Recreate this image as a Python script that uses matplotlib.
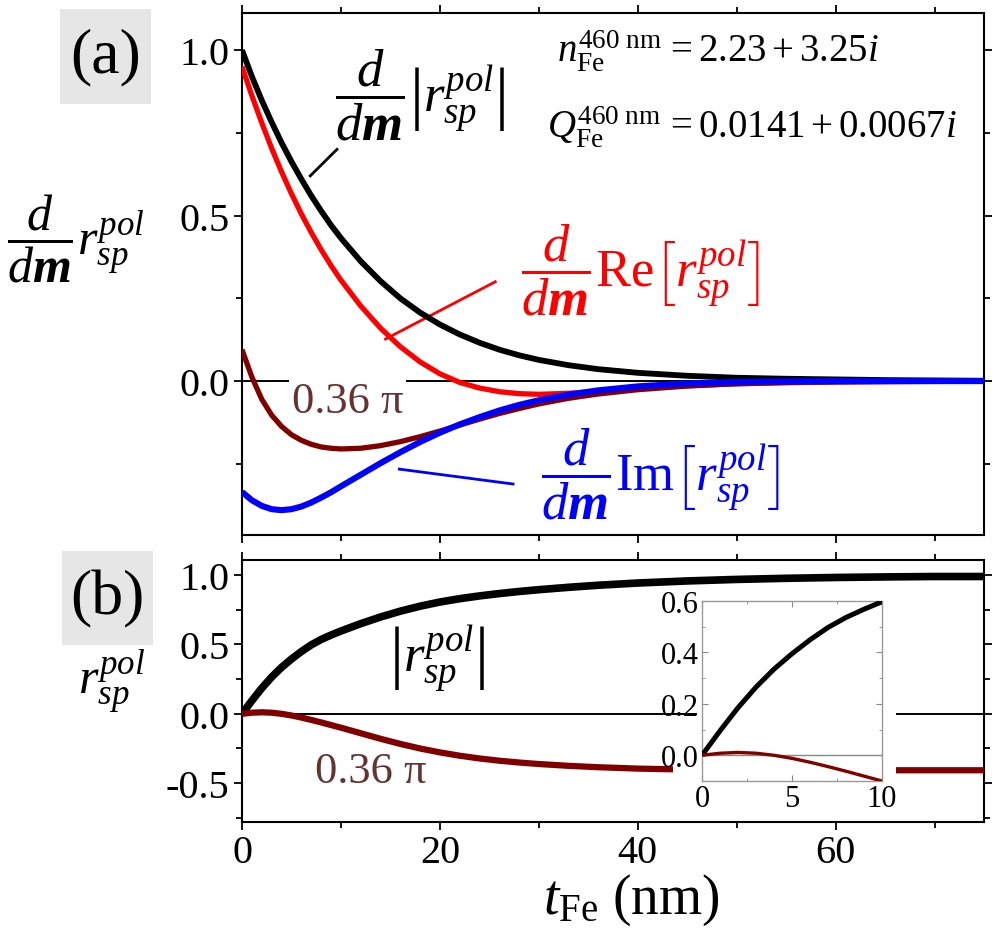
import numpy as np
import matplotlib
matplotlib.use('Agg')
import matplotlib.pyplot as plt
from matplotlib.patches import Rectangle
from matplotlib.ticker import MultipleLocator, FormatStrFormatter

plt.rcParams['font.family'] = ['Liberation Serif', 'DejaVu Serif']
plt.rcParams['mathtext.fontset'] = 'custom'
plt.rcParams['mathtext.rm'] = 'Liberation Serif'
plt.rcParams['mathtext.it'] = 'Liberation Serif:italic'
plt.rcParams['mathtext.bf'] = 'Liberation Serif:bold:italic'
plt.rcParams['axes.unicode_minus'] = False

# thickness t_Fe (nm)
t = [0, 1, 2, 3, 4, 5, 6, 7, 8, 9, 10, 12, 14, 16, 18, 20, 22, 24, 26, 28, 30,
     33, 36, 40, 45, 50, 55, 60, 65, 70, 75]

# panel (a): derivatives d/dm of r_sp^pol
d_abs = [1.0, 0.92, 0.848, 0.782, 0.72, 0.663, 0.61, 0.56, 0.514, 0.471, 0.432, 0.362,
         0.302, 0.25, 0.207, 0.171, 0.141, 0.116, 0.095, 0.078, 0.064, 0.048, 0.036,
         0.025, 0.016, 0.01, 0.007, 0.005, 0.003, 0.002, 0.001]
d_re = [0.95, 0.862, 0.78, 0.703, 0.632, 0.566, 0.505, 0.449, 0.397, 0.349, 0.305, 0.227,
        0.16, 0.104, 0.058, 0.022, -0.004, -0.021, -0.032, -0.038, -0.04, -0.037, -0.031,
        -0.022, -0.014, -0.008, -0.005, -0.003, -0.002, -0.001, 0.0]
d_im = [-0.335, -0.36, -0.377, -0.387, -0.39, -0.387, -0.379, -0.367, -0.352, -0.336,
        -0.318, -0.283, -0.248, -0.215, -0.184, -0.156, -0.131, -0.109, -0.089, -0.072,
        -0.058, -0.041, -0.028, -0.016, -0.007, -0.003, -0.001, 0.0, 0.0, 0.0, 0.0]
d_036 = [0.095, 0.012, -0.055, -0.103, -0.137, -0.162, -0.179, -0.191, -0.199, -0.203,
         -0.205, -0.203, -0.195, -0.183, -0.168, -0.151, -0.133, -0.115, -0.098, -0.083,
         -0.069, -0.052, -0.039, -0.026, -0.015, -0.008, -0.004, -0.002, -0.001, 0.0, 0.0]

# panel (b): r_sp^pol
r_abs = [0.0, 0.095, 0.185, 0.265, 0.335, 0.395, 0.449, 0.497, 0.536, 0.568, 0.597, 0.65,
         0.698, 0.74, 0.776, 0.806, 0.83, 0.85, 0.867, 0.882, 0.895, 0.912, 0.927,
         0.943, 0.958, 0.969, 0.977, 0.983, 0.987, 0.99, 0.99]
r_036 = [0.0, 0.008, 0.011, 0.008, 0.0, -0.012, -0.027, -0.044, -0.062, -0.081, -0.1,
         -0.14, -0.18, -0.217, -0.25, -0.278, -0.302, -0.322, -0.338, -0.351, -0.362,
         -0.375, -0.385, -0.395, -0.402, -0.405, -0.407, -0.407, -0.407, -0.407, -0.407]

W, H = 997, 937
fig = plt.figure(figsize=(W / 100, H / 100), dpi=100)


def box(x0, y0, x1, y1):
    # pixel box -> figure fraction [left, bottom, width, height]
    return [x0 / W, 1 - y1 / H, (x1 - x0) / W, (y1 - y0) / H]


def pt(x, y):
    return x / W, 1 - y / H


ax1 = fig.add_axes(box(242, 14, 984, 536))
ax2 = fig.add_axes(box(242, 561, 984, 823))

brown = '#800000'
txt_brown = '#663333'
line_kw = dict(solid_joinstyle='round', solid_capstyle='butt', zorder=3)

for ax in (ax1, ax2):
    ax.set_xlim(0, 75)
    ax.xaxis.set_major_locator(MultipleLocator(20))
    ax.xaxis.set_minor_locator(MultipleLocator(10))
    ax.yaxis.set_major_locator(MultipleLocator(0.5))
    ax.yaxis.set_minor_locator(MultipleLocator(0.25))
    ax.yaxis.set_major_formatter(FormatStrFormatter('%.1f'))
    ax.tick_params(which='both', direction='out', top=True, right=True, width=1.3,
                   labelsize=29, pad=3)
    ax.tick_params(which='major', length=6)
    ax.tick_params(which='minor', length=4)
    for s in ax.spines.values():
        s.set_linewidth(1.5)
    ax.axhline(0, color='k', lw=1.4, zorder=1)

# ---- panel (a)
ax1.set_ylim(-0.465, 1.112)
ax1.tick_params(labelbottom=False)
ax1.plot(t, d_abs, color='k', lw=4.2, **line_kw)
ax1.plot(t, d_re, color='#ff0000', lw=3.8, **line_kw)
ax1.plot(t, d_036, color=brown, lw=3.8, **line_kw)
ax1.plot(t, d_im, color='#0000ff', lw=4.4, **line_kw)

ax1.plot([6.9, 9.6], [0.62, 0.70], color='k', lw=2)
ax1.plot([14.5, 25.6], [0.127, 0.30], color='#ff0000', lw=2)
ax1.plot([15.9, 27.4], [-0.266, -0.311], color='#0000ff', lw=2)

ax1.text(18, 0.867, r'$\dfrac{d}{d\mathbf{m}}\left|r_{sp}^{pol}\right|$', fontsize=38,
         ha='center', va='center')
ax1.text(40.3, 0.338, r'$\dfrac{d}{d\mathbf{m}}\mathrm{Re}\left[r_{sp}^{pol}\right]$',
         fontsize=38, ha='center', va='center', color='#ff0000')
ax1.text(42.3, -0.278, r'$\dfrac{d}{d\mathbf{m}}\mathrm{Im}\left[r_{sp}^{pol}\right]$',
         fontsize=38, ha='center', va='center', color='#0000ff')
ax1.text(10.7, -0.06, '0.36 π', fontsize=32, ha='center', va='center', color=txt_brown,
         zorder=2, bbox=dict(facecolor='white', edgecolor='none', pad=2))

ax1.text(42.4, 1.0, r'$n_{\mathrm{Fe}}^{460\ \mathrm{nm}}$', fontsize=28, ha='right', va='center')
ax1.text(42.8, 1.0, r'$= 2.23 + 3.25i$', fontsize=28, ha='left', va='center')
ax1.text(42.4, 0.77, r'$Q_{\mathrm{Fe}}^{460\ \mathrm{nm}}$', fontsize=28, ha='right', va='center')
ax1.text(42.8, 0.77, r'$= 0.0141 + 0.0067i$', fontsize=28, ha='left', va='center')

# ---- panel (b)
ax2.set_ylim(-0.78, 1.109)
ax2.plot(t, r_abs, color='k', lw=5.5, **line_kw)
ax2.plot(t, r_036, color=brown, lw=4.5, **line_kw)
ax2.text(19.7, 0.40, r'$\left|r_{sp}^{pol}\right|$', fontsize=38, ha='center', va='center')
ax2.text(13, -0.41, '0.36 π', fontsize=32, ha='center', va='center', color=txt_brown)

# white patch behind the inset
fig.patches.append(Rectangle(pt(697, 800), 199 / W, 205 / H, transform=fig.transFigure,
                             facecolor='white', edgecolor='none', zorder=2))
fig.patches.append(Rectangle(pt(673, 800), 30 / W, 55 / H, transform=fig.transFigure,
                             facecolor='white', edgecolor='none', zorder=2))

# inset
axi = fig.add_axes(box(702, 602, 882, 782))
axi.set_zorder(3)
n_in = 11
axi.plot(t[:n_in], r_abs[:n_in], color='k', lw=3.6, **line_kw)
axi.plot(t[:n_in], r_036[:n_in], color=brown, lw=2.4, **line_kw)
axi.axhline(0, color='#888888', lw=1, zorder=1)
axi.set_xlim(0, 10)
axi.set_ylim(-0.1, 0.6)
axi.xaxis.set_major_locator(MultipleLocator(5))
axi.xaxis.set_minor_locator(MultipleLocator(2.5))
axi.yaxis.set_major_locator(MultipleLocator(0.2))
axi.yaxis.set_minor_locator(MultipleLocator(0.1))
axi.yaxis.set_major_formatter(FormatStrFormatter('%.1f'))
axi.tick_params(which='both', direction='in', top=True, right=True, color='#888888',
                labelsize=22, pad=2)
axi.tick_params(which='major', length=4)
axi.tick_params(which='minor', length=2)
for s in axi.spines.values():
    s.set_color('#999999')
    s.set_linewidth(1)

# panel labels
for (x0, y0, x1, y1), lab in [((60, 10, 151, 105), '(a)'), ((62, 552, 153, 646), '(b)')]:
    fig.patches.append(Rectangle(pt(x0, y1), (x1 - x0) / W, (y1 - y0) / H,
                                 transform=fig.transFigure, facecolor='#e6e6e6',
                                 edgecolor='none'))
    cx, cy = pt((x0 + x1) / 2, (y0 + y1) / 2)
    fig.text(cx, cy, lab, fontsize=46, ha='center', va='center')

# axis labels
fig.text(*pt(76, 239), r'$\dfrac{d}{d\mathbf{m}}r_{sp}^{pol}$', fontsize=36, ha='center', va='center')
fig.text(*pt(112, 682), r'$r_{sp}^{pol}$', fontsize=36, ha='center', va='center')
fig.text(*pt(631, 900), r'$t_{\mathrm{Fe}}$ (nm)', fontsize=40, ha='center', va='center')

fig.savefig('out.png', dpi=100)
